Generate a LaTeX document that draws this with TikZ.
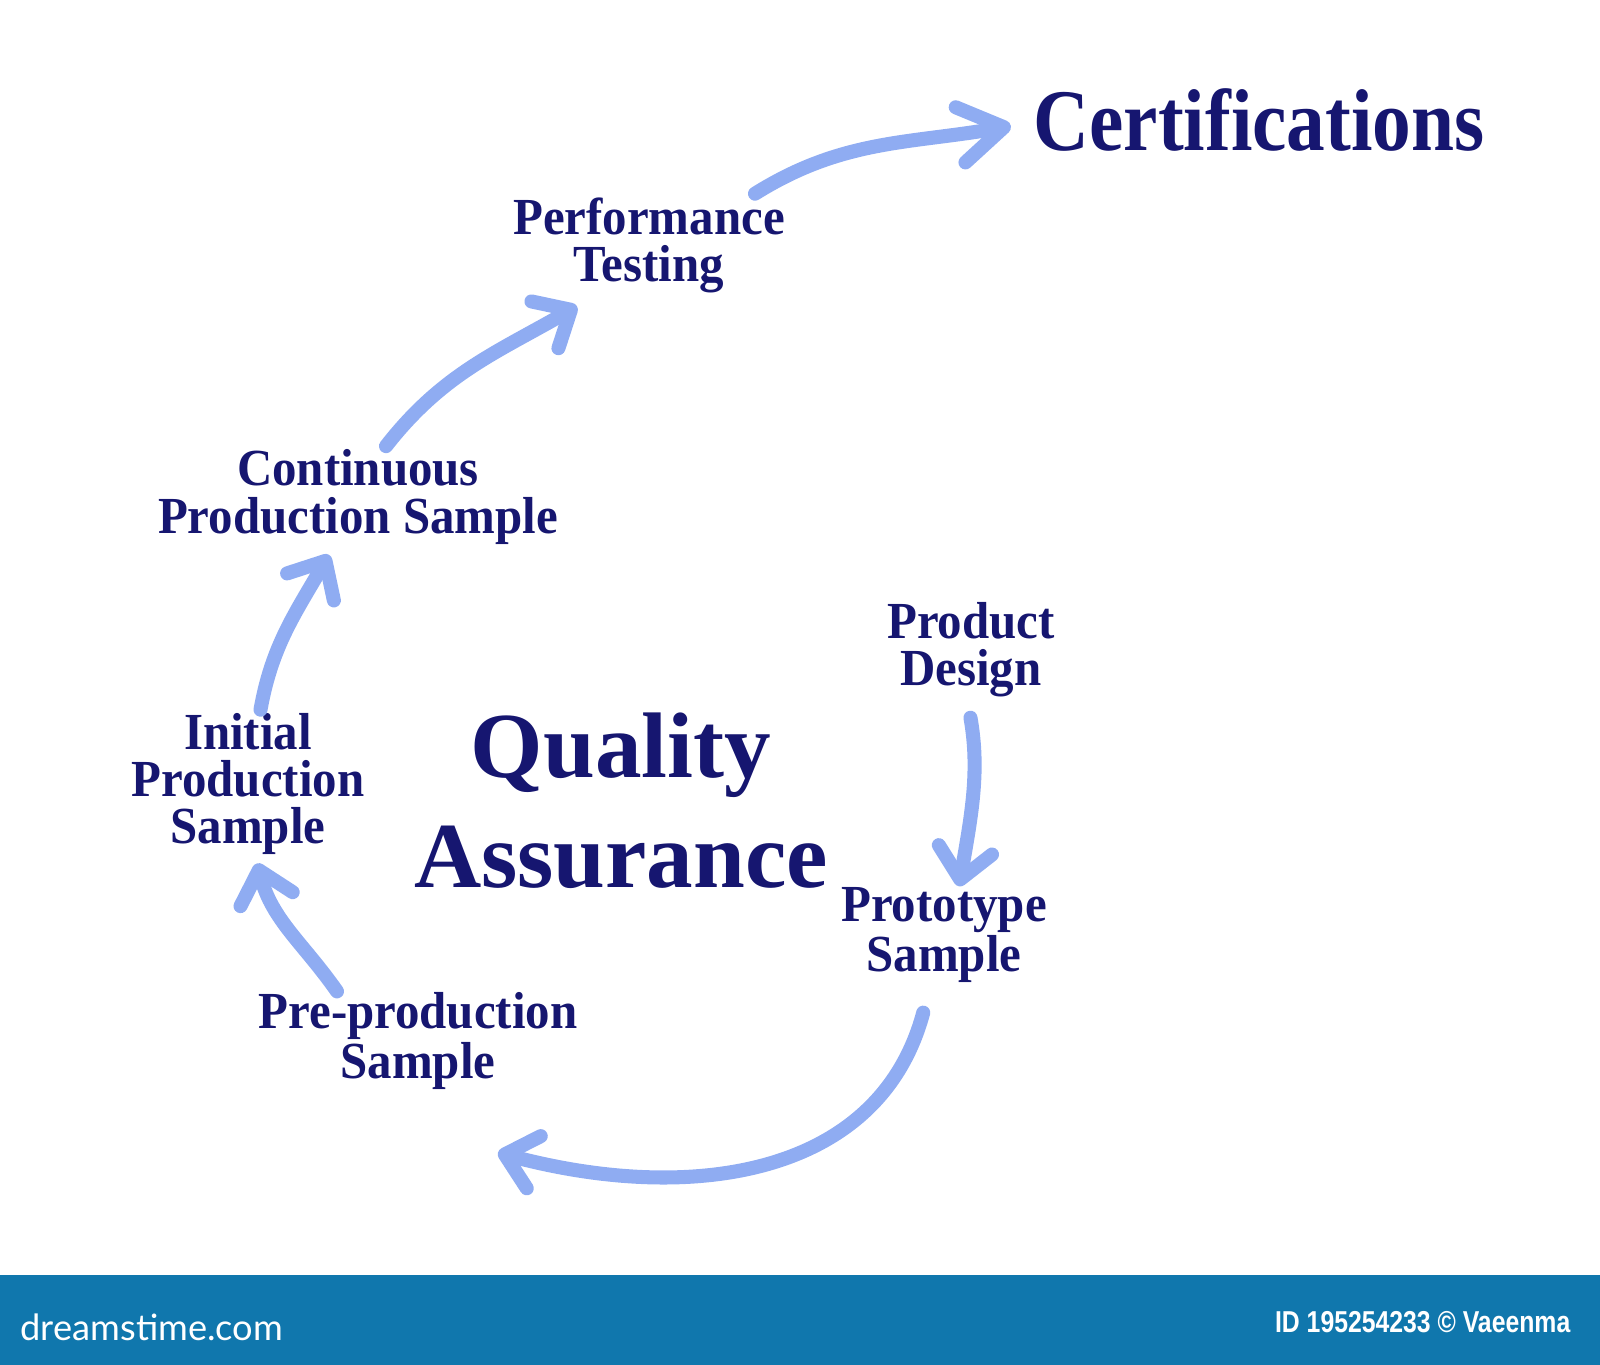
\documentclass[tikz,border=0pt]{standalone}
\usepackage{fontspec}
\setmainfont{Liberation Serif}
\newfontfamily\stagefont[FakeStretch=0.94]{Liberation Serif}
\newfontfamily\certfont[FakeStretch=0.88]{Liberation Serif}
\newfontfamily\creditfont[FakeStretch=0.82]{Liberation Sans}
\newfontfamily\logofont{Lato}
\usetikzlibrary{arrows.meta}
\definecolor{qanavy}{RGB}{22,22,112}
\definecolor{qaarrow}{RGB}{143,172,242}
\definecolor{qabar}{RGB}{16,119,173}

\begin{document}
\begin{tikzpicture}[x=0.1mm,y=-0.1mm,
  every node/.style={text=qanavy,inner sep=0pt,align=center},
  stage/.style={font=\stagefont\bfseries\fontsize{14.8}{13.4}\selectfont},
  flow/.style={qaarrow,line width=4pt,line cap=round,-{Straight Barb[length=3mm,width=5.4mm,round]}},
  bigflow/.style={flow,-{Straight Barb[length=4.4mm,width=5.6mm,round]}}
]
\useasboundingbox (0,0) rectangle (1600,1365);

\node[font=\bfseries\fontsize{26.5}{31.3}\selectfont] (qa) at (621,801) {Quality\\Assurance};
\node[font=\certfont\bfseries\fontsize{25}{30}\selectfont] (cert) at (1259,120) {Certifications};
\node[stage] (perf) at (649,245) {Performance\\Testing};
\node[stage] (cont) at (358,497) {Continuous\\Production Sample};
\node[stage] (design) at (971,650) {Product\\Design};
\node[stage] (init) at (248,784) {Initial\\Production\\Sample};
\node[stage] (proto) at (944,935) {Prototype\\Sample};
\node[stage] (pre) at (418,1041) {Pre-production\\Sample};

\draw[flow,shorten <=2mm] ([xshift=-0.4mm]design.south) to[out=-80,in=80] ([xshift=1.5mm]proto.north);
\draw[flow,shorten <=3mm] ([xshift=-1.3mm]proto.south) to[out=-105,in=-15,looseness=1.1] ([shift={(8mm,-6.2mm)}]pre.south);
\draw[flow] ([xshift=-8.1mm]pre.north) to[out=125,in=-75] ([shift={(0.9mm,-0.8mm)}]init.south);
\draw[flow,shorten <=0.3mm] ([xshift=1.2mm]init.north) to[out=80,in=-120] ([shift={(-2.9mm,-1mm)}]cont.south);
\draw[flow] ([shift={(2.8mm,0.3mm)}]cont.north) to[out=52,in=-150] ([shift={(-7.2mm,-1.3mm)}]perf.south);
\draw[bigflow] ([shift={(10.6mm,0.3mm)}]perf.north) to[out=32,in=-170] ([shift={(-2.2mm,-0.6mm)}]cert.west);

% stock footer
\fill[qabar] (0,1275) rectangle (1600,1365);
\node[anchor=west,text=white,font=\logofont\fontsize{10.3}{12}\selectfont] (logo) at (20,1327) {dreamstime.com};
\node[anchor=east,text=white,font=\creditfont\bfseries\fontsize{8.6}{10}\selectfont] (credit) at (1571,1322) {ID 195254233 © Vaeenma};
\end{tikzpicture}
\end{document}
